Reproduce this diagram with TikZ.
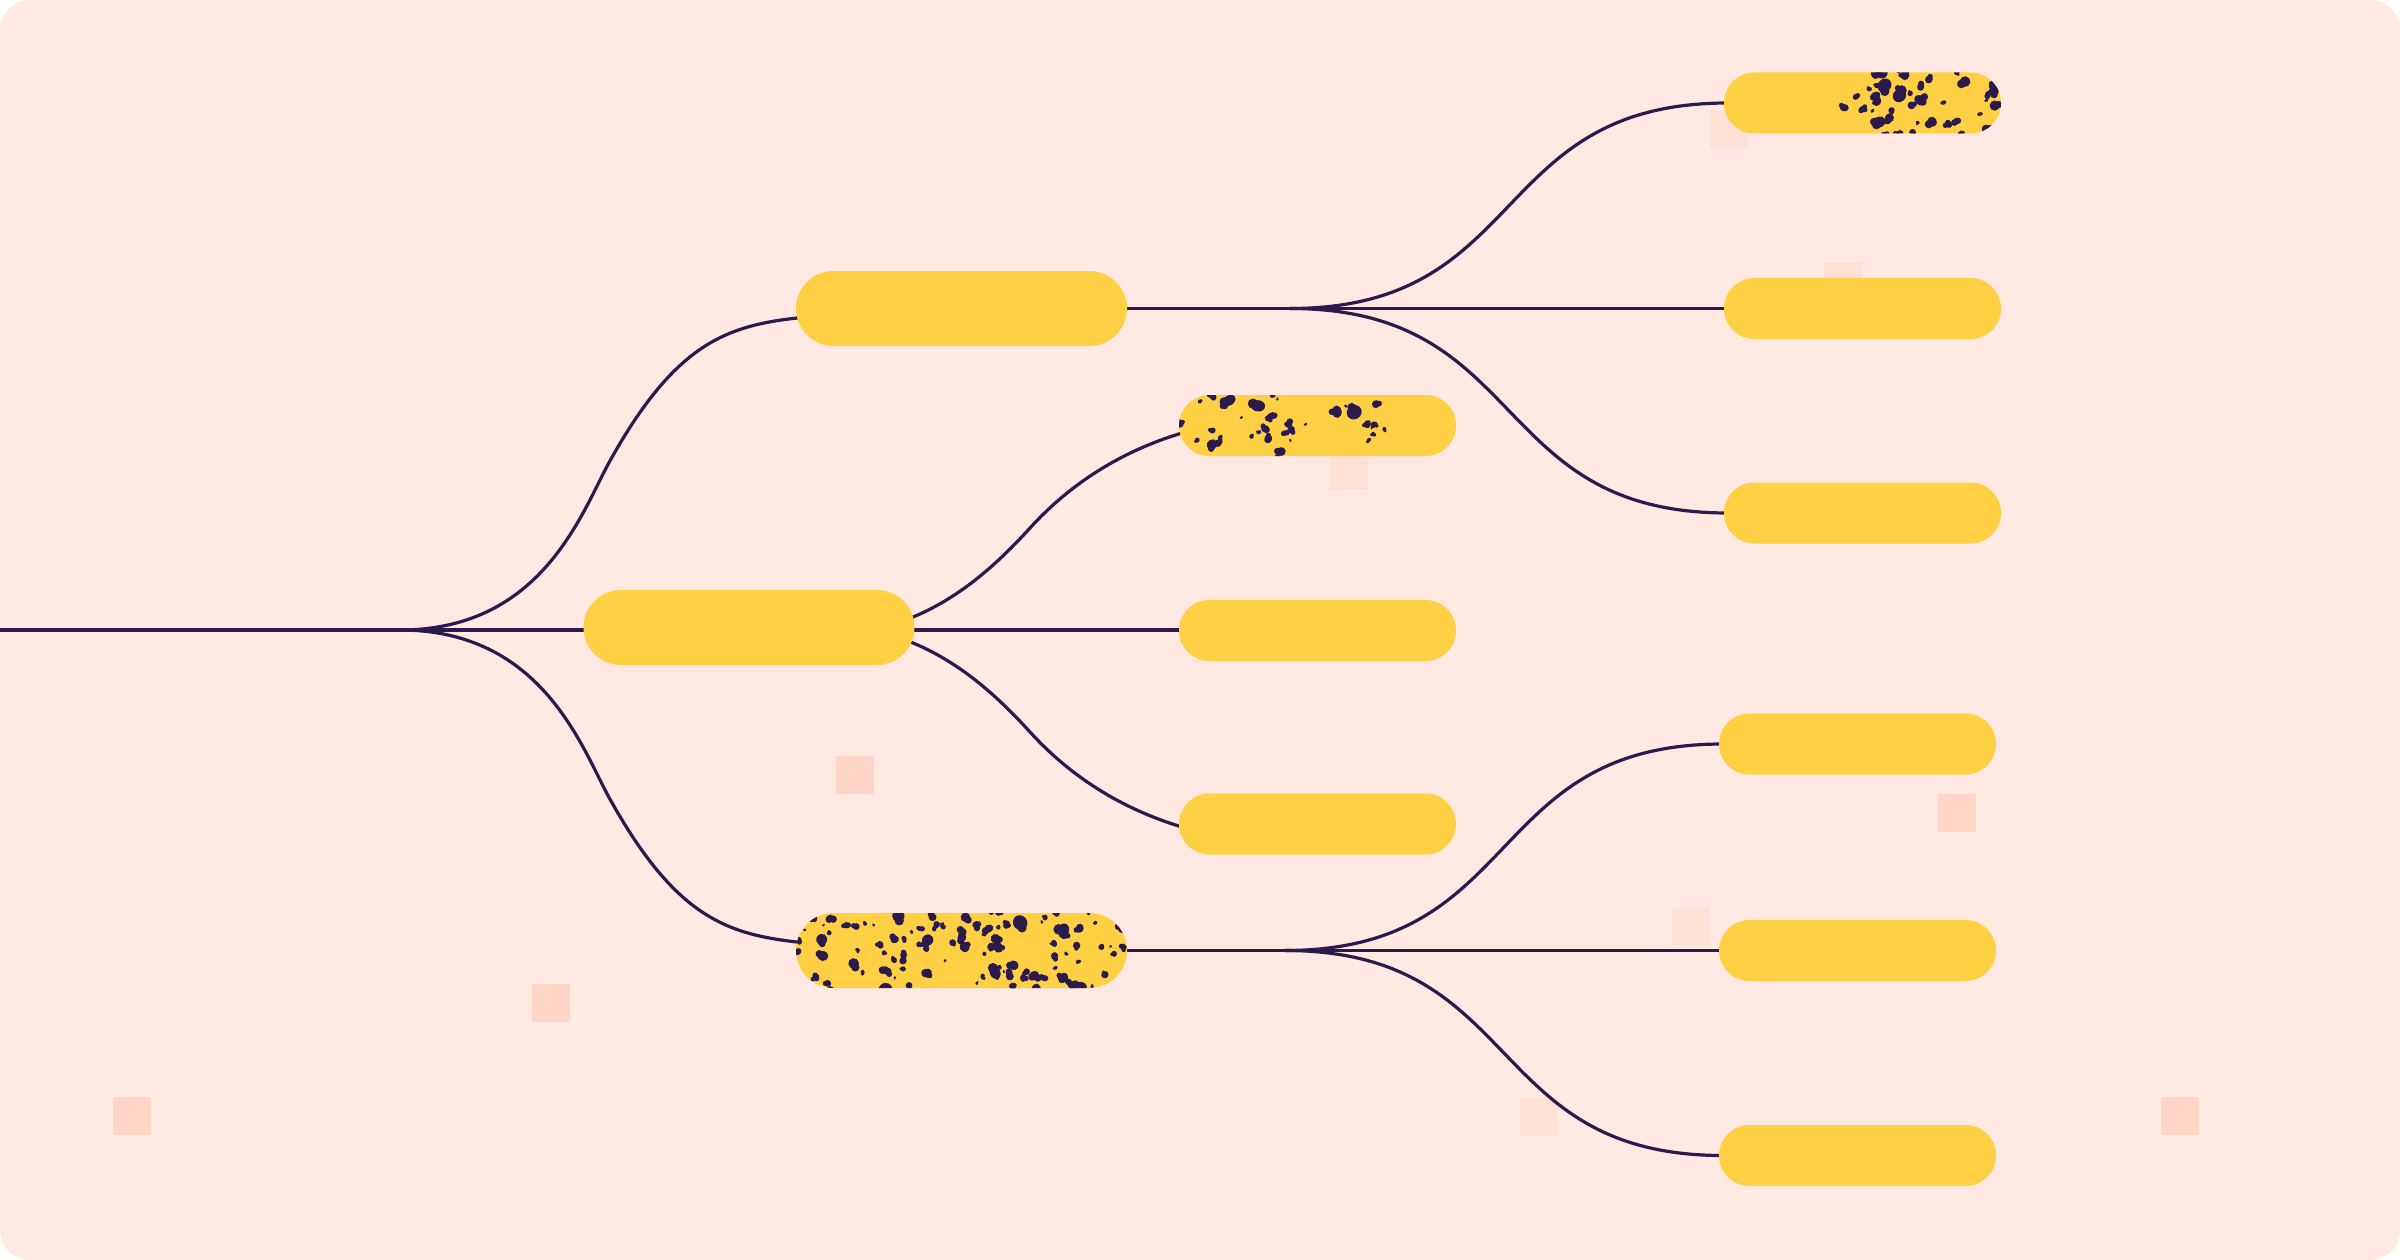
\documentclass[tikz,border=0pt]{standalone}
\usetikzlibrary{calc}
\definecolor{bgc}{HTML}{FFE9E2}
\definecolor{sqstrong}{HTML}{FFD6C6}
\definecolor{sqfaint}{HTML}{FFE0D5}
\definecolor{pillc}{HTML}{FFD043}
\definecolor{inkc}{HTML}{2B1A4C}
\newcommand\speckle[5]{%
  \foreach \i in {1,...,#5}{%
    \pgfmathsetmacro\sx{#1+#3*rnd}%
    \pgfmathsetmacro\sy{#2+#4*rnd}%
    \pgfmathsetmacro\sr{1.4+6.2*rnd*(0.4+0.6*rnd)}%
    \pgfmathsetmacro\sb{\sr*(0.7+0.4*rnd)}%
    \pgfmathsetmacro\sang{180*rnd}%
    \pgfmathsetmacro\tr{\sr*(0.45+0.4*rnd)}%
    \pgfmathsetmacro\ta{360*rnd}%
    \pgfmathsetmacro\tx{\sx+0.8*\sr*cos(\ta)}%
    \pgfmathsetmacro\ty{\sy+0.8*\sr*sin(\ta)}%
    \fill[inkc, rotate around={\sang:(\sx,\sy)}] (\sx,\sy) ellipse[x radius=\sr pt, y radius=\sb pt];
    \fill[inkc] (\tx,\ty) circle[radius=\tr pt];
  }}
\tikzset{
  bigpill/.style={fill=pillc, draw=none, rounded corners=37.5pt, minimum width=331pt, minimum height=75pt, inner sep=0pt},
  smallpill/.style={fill=pillc, draw=none, rounded corners=30.5pt, minimum width=277pt, minimum height=61pt, inner sep=0pt},
  wire/.style={draw=inkc, line width=3.2pt},
  sqa/.style={fill=sqstrong},
  sqb/.style={fill=sqfaint},
}
\begin{document}
\begin{tikzpicture}[x=1pt,y=-1pt]
\useasboundingbox (0,0) rectangle (2400,1260);
\fill[bgc, rounded corners=30pt] (0,0) rectangle (2400,1260);

% decorative squares
\fill[sqa] (113,1097) rectangle +(38,38);
\fill[sqa] (532,984) rectangle +(38,38);
\fill[sqa] (836,756) rectangle +(38,38);
\fill[sqa] (1938,794) rectangle +(38,38);
\fill[sqa] (2161,1097) rectangle +(38,38);
\fill[sqb] (1330,452) rectangle +(38,38);
\fill[sqb] (1710,110) rectangle +(38,38);
\fill[sqb] (1824,262) rectangle +(38,38);
\fill[sqb] (1672,908) rectangle +(38,38);
\fill[sqb] (1520,1098) rectangle +(38,38);

% connector anchor points
\coordinate (m0) at (0,630);
\coordinate (s0) at (400,630);
\coordinate (c2u) at (900,622);
\coordinate (c2d) at (900,638);
\coordinate (f1) at (1290,308.5);
\coordinate (f2) at (1285,950.5);

% pill placeholders (filled on top later)
\path
  (749,627.5) node[bigpill, fill=none] (p2) {}
  (961.5,308.5) node[bigpill, fill=none] (p1) {}
  (961.5,950.5) node[bigpill, fill=none] (p3) {}
  (1317.5,425.5) node[smallpill, fill=none] (p4) {}
  (1317.5,630.5) node[smallpill, fill=none] (p5) {}
  (1317.5,824) node[smallpill, fill=none] (p6) {}
  (1862.5,103) node[smallpill, fill=none] (p7) {}
  (1862.5,308.5) node[smallpill, fill=none] (p8) {}
  (1862.5,513) node[smallpill, fill=none] (p9) {}
  (1857.5,744) node[smallpill, fill=none] (p10) {}
  (1857.5,950.5) node[smallpill, fill=none] (p11) {}
  (1857.5,1155.5) node[smallpill, fill=none] (p12) {};

% connectors
\draw[wire] (m0) -- (m0 -| p2.center);
\draw[wire] (s0) .. controls (545,630) and (583,508) .. (611,459)
  .. controls (675,345) and (725,326) .. (797,318) -- ($(p1.west)+(34,4)$);
\draw[wire] (s0) .. controls (545,630) and (583,752) .. (611,801)
  .. controls (675,915) and (725,934) .. (797,942) -- ($(p3.west)+(34,-3)$);

\draw[wire] (m0 -| p2.center) -- (m0 -| p5.center);
\draw[wire] (c2u) .. controls (950,604.5) and (990,572) .. (1030,528)
  .. controls (1080,473) and (1137,446.5) .. (1182,433) -- ($(p4.west)+(21,3.5)$);
\draw[wire] (c2d) .. controls (950,655.5) and (990,688) .. (1030,732)
  .. controls (1080,787) and (1137,813.5) .. (1182,827) -- ($(p6.west)+(21,7)$);

\draw[wire] (p1.east) -- (p8.west);
\draw[wire] (f1) .. controls +(240,0) and +(-240,0) .. ($(p7.west)+(4,0)$);
\draw[wire] (f1) .. controls +(240,0) and +(-240,0) .. ($(p9.west)+(4,0)$);

\draw[wire] (p3.east) -- (p11.west);
\draw[wire] (f2) .. controls +(240,0) and +(-240,0) .. ($(p10.west)+(4,0)$);
\draw[wire] (f2) .. controls +(240,0) and +(-240,0) .. ($(p12.west)+(4,0)$);

% pills
\foreach \p/\s in {p1/bigpill,p2/bigpill,p3/bigpill,p4/smallpill,p5/smallpill,p6/smallpill,
                   p7/smallpill,p8/smallpill,p9/smallpill,p10/smallpill,p11/smallpill,p12/smallpill}{
  \node[\s] at (\p.center) {};
}

% speckles
\pgfmathsetseed{11}
\begin{scope}
  \clip[rounded corners=37.5pt] (796,913) rectangle (1127,988);
  \speckle{790}{908}{340}{84}{95}
  \speckle{796}{913}{331}{75}{30}
\end{scope}
\begin{scope}
  \clip[rounded corners=30.5pt] (1179,395) rectangle (1456,456);
  \speckle{1176}{392}{115}{68}{26}
  \speckle{1285}{392}{110}{52}{13}
\end{scope}
\begin{scope}
  \clip[rounded corners=30.5pt] (1724,72.5) rectangle (2001,133.5);
  \speckle{1862}{68}{145}{70}{44}
  \speckle{1835}{80}{40}{50}{6}
\end{scope}
\end{tikzpicture}
\end{document}
